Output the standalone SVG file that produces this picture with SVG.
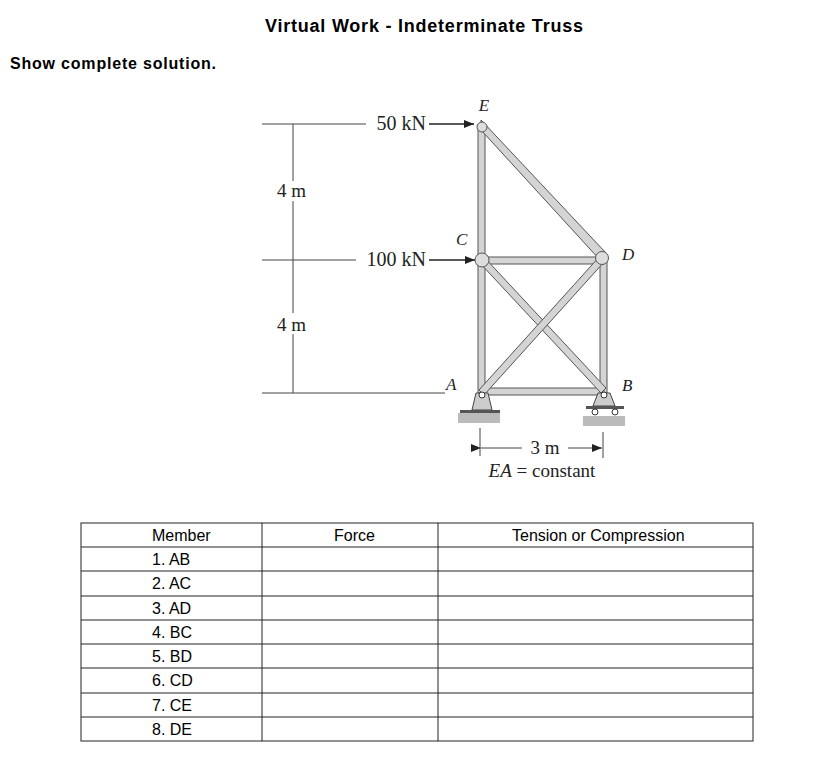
<svg xmlns="http://www.w3.org/2000/svg" width="828" height="763" viewBox="0 0 828 763">
<style>
.t{font-family:"Liberation Sans",Arial,sans-serif;fill:#000}
.s{font-family:"Liberation Serif","Times New Roman",serif;fill:#222}
.m{fill:#d4d4d4;stroke:#555;stroke-width:1}
.thin{stroke:#444;stroke-width:1;fill:none}
.grid{stroke:#222;stroke-width:1;fill:none}
</style>
<defs>
<marker id="ar" markerWidth="10" markerHeight="8" refX="10" refY="4" orient="auto" markerUnits="userSpaceOnUse"><path d="M0,0 L10,4 L0,8 Z" fill="#222"/></marker>
</defs>
<rect width="828" height="763" fill="#fff"/>
<text class="t" x="424" y="32" font-size="18" font-weight="bold" text-anchor="middle" textLength="318">Virtual Work - Indeterminate Truss</text>
<text class="t" x="10" y="69" font-size="16" font-weight="bold" textLength="206">Show complete solution.</text>

<g id="dims">
<line class="thin" x1="262" y1="124" x2="366" y2="124"/>
<line class="thin" x1="262" y1="260" x2="356" y2="260" stroke="#999"/>
<line class="thin" x1="262" y1="393" x2="445" y2="393"/>
<line class="thin" x1="293" y1="124" x2="293" y2="181"/>
<line class="thin" x1="293" y1="201" x2="293" y2="313"/>
<line class="thin" x1="293" y1="334" x2="293" y2="393"/>
<text class="s" x="277" y="197" font-size="19">4 m</text>
<text class="s" x="277" y="331" font-size="19">4 m</text>
<line class="thin" x1="480" y1="428" x2="480" y2="456"/>
<line class="thin" x1="603" y1="432" x2="603" y2="458"/>
<line class="thin" x1="481" y1="448" x2="522" y2="448" marker-start="url(#ar)"/>
<line class="thin" x1="568" y1="448" x2="602" y2="448" marker-end="url(#ar)"/>
<text class="s" x="545" y="454" font-size="19" text-anchor="middle">3 m</text>
<text class="s" x="542" y="477" font-size="19" text-anchor="middle"><tspan font-style="italic">EA</tspan> = constant</text>
</g>

<g id="connectors">
<line x1="429" y1="124" x2="474" y2="124" stroke="#222" stroke-width="1.5" marker-end="url(#ar)"/>
<line x1="429" y1="260" x2="475" y2="260" stroke="#222" stroke-width="1.5" marker-end="url(#ar)"/>
<text class="s" x="426" y="130" font-size="20" text-anchor="end">50 kN</text>
<text class="s" x="426" y="266" font-size="20" text-anchor="end">100 kN</text>
</g>

<g id="members">
<polygon class="m" points="478,124 485,124 485,393 478,393"/>
<polygon class="m" points="600,258 607,258 607,393 600,393"/>
<polygon class="m" points="481,257 604,257 604,264 481,264"/>
<polygon class="m" points="481,388 604,388 604,395 481,395"/>
<polygon class="m" points="481,120 606,253 600,260 481,130"/>
<polygon class="m" points="483,256 606,388 601,393 479,262"/>
<polygon class="m" points="600,256 605,261 484,395 479,390"/>
</g>

<g id="E"><circle cx="482" cy="127" r="5" fill="#ddd" stroke="#555"/><text class="s" x="484" y="111" font-size="17" font-style="italic" text-anchor="middle">E</text></g>
<g id="C"><circle cx="482" cy="260" r="7" fill="#ddd" stroke="#555"/><text class="s" x="456" y="245" font-size="17" font-style="italic">C</text></g>
<g id="D"><circle cx="602" cy="258" r="6.5" fill="#ddd" stroke="#555"/><text class="s" x="622" y="260" font-size="17" font-style="italic">D</text></g>
<g id="A">
<text class="s" x="446" y="390" font-size="17" font-style="italic">A</text>
<polygon points="476,393 488,393 492,410 472,410" fill="#ccc" stroke="#444"/>
<circle cx="482" cy="395" r="3" fill="#fff" stroke="#333"/>
<rect x="460" y="410" width="40" height="3" fill="#555"/>
<rect x="458" y="413" width="42" height="10" fill="#bbb"/>
</g>
<g id="B">
<text class="s" x="622" y="391" font-size="17" font-style="italic">B</text>
<polygon points="598,393 610,393 615,406 593,406" fill="#ccc" stroke="#444"/>
<circle cx="604" cy="395" r="3" fill="#fff" stroke="#333"/>
<rect x="586" y="406" width="38" height="3" fill="#555"/>
<circle cx="595" cy="412" r="3" fill="#fff" stroke="#333"/>
<circle cx="615" cy="412" r="3" fill="#fff" stroke="#333"/>
<rect x="583" y="416" width="42" height="10" fill="#bbb"/>
</g>

<g id="table">
<rect class="grid" x="81" y="523" width="672" height="218"/>
<line class="grid" x1="262" y1="523" x2="262" y2="741"/>
<line class="grid" x1="438" y1="523" x2="438" y2="741"/>
<line class="grid" x1="81" y1="547" x2="753" y2="547"/>
<line class="grid" x1="81" y1="571" x2="753" y2="571"/>
<line class="grid" x1="81" y1="596" x2="753" y2="596"/>
<line class="grid" x1="81" y1="620" x2="753" y2="620"/>
<line class="grid" x1="81" y1="644" x2="753" y2="644"/>
<line class="grid" x1="81" y1="668" x2="753" y2="668"/>
<line class="grid" x1="81" y1="693" x2="753" y2="693"/>
<line class="grid" x1="81" y1="717" x2="753" y2="717"/>
<g class="t" font-size="16">
<text x="152" y="541">Member</text>
<text x="334" y="541">Force</text>
<text x="512" y="541">Tension or Compression</text>
<text x="152" y="565">1. AB</text>
<text x="152" y="589">2. AC</text>
<text x="152" y="614">3. AD</text>
<text x="152" y="638">4. BC</text>
<text x="152" y="662">5. BD</text>
<text x="152" y="686">6. CD</text>
<text x="152" y="711">7. CE</text>
<text x="152" y="735">8. DE</text>
</g>
</g>
</svg>
